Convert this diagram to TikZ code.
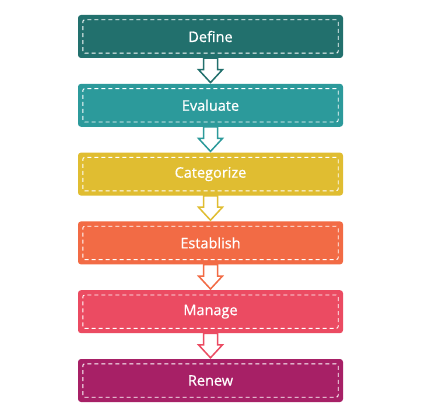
\documentclass[tikz,border=0pt]{standalone}
\usepackage{fontspec}
\setmainfont{Open Sans}
\newfontfamily\boxfont[FakeBold=0.6]{Open Sans}
\usetikzlibrary{calc}
\definecolor{cDefine}{HTML}{22706D}
\definecolor{cEval}{HTML}{2C9A9B}
\definecolor{cCat}{HTML}{E0BD31}
\definecolor{cEst}{HTML}{F26B45}
\definecolor{cMan}{HTML}{EB4B62}
\definecolor{cRen}{HTML}{A72066}
\tikzset{
  stepbox/.style={rectangle, rounded corners=3pt, minimum width=265pt, minimum height=43pt,
    fill=#1, draw=none, text=white, font=\boxfont\fontsize{14.5pt}{16pt}\selectfont},
  innerdash/.style={draw=white, line width=0.9pt, dash pattern=on 4pt off 3pt, rounded corners=2pt},
  blockarrow/.style={draw=#1, fill=white, line width=1.5pt, line join=miter}
}
\newcommand{\dashin}[1]{%
  \draw[innerdash] ($(#1.south west)+(5pt,5pt)$) rectangle ($(#1.north east)+(-5pt,-5pt)$);}
\newcommand{\blockarr}[3]{%
  \draw[blockarrow=#3]
    ($(#1.south)+(-7pt,0)$) -- ($(#1.south)+(7pt,0)$) --
    ($(#2.north)+(7pt,14pt)$) -- ($(#2.north)+(12pt,14pt)$) --
    ($(#2.north)+(0,1pt)$) --
    ($(#2.north)+(-12pt,14pt)$) -- ($(#2.north)+(-7pt,14pt)$) -- cycle;}
\begin{document}
\begin{tikzpicture}[x=1pt,y=-1pt]
\useasboundingbox[fill=white] (0,0) rectangle (421,420);
\node[stepbox=cDefine] (define) at (210.5,36.5) {Define};
\node[stepbox=cEval] (evaluate) at (210.5,105.3) {Evaluate};
\node[stepbox=cCat] (categorize) at (210.5,174.1) {Categorize};
\node[stepbox=cEst] (establish) at (210.5,242.9) {Establish};
\node[stepbox=cMan] (manage) at (210.5,311.7) {Manage};
\node[stepbox=cRen] (renew) at (210.5,380.5) {Renew};
\dashin{define}
\dashin{evaluate}
\dashin{categorize}
\dashin{establish}
\dashin{manage}
\dashin{renew}
\blockarr{define}{evaluate}{cDefine}
\blockarr{evaluate}{categorize}{cEval}
\blockarr{categorize}{establish}{cCat}
\blockarr{establish}{manage}{cEst}
\blockarr{manage}{renew}{cMan}
\end{tikzpicture}
\end{document}
